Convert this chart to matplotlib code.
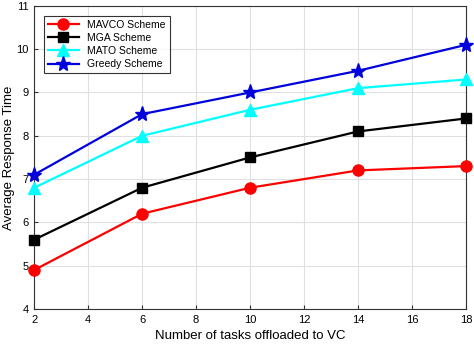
import matplotlib
matplotlib.use("Agg")
import matplotlib.pyplot as plt

plt.rcParams['font.family'] = ['Liberation Sans', 'DejaVu Sans']

tasks = [2, 6, 10, 14, 18]
mavco = [4.9, 6.2, 6.8, 7.2, 7.3]
mga = [5.6, 6.8, 7.5, 8.1, 8.4]
mato = [6.8, 8.0, 8.6, 9.1, 9.3]
greedy = [7.1, 8.5, 9.0, 9.5, 10.1]

fig = plt.figure(figsize=(4.74, 3.46), dpi=100)
ax = fig.add_axes([0.072, 0.107, 0.911, 0.876])

style = dict(lw=1.6, clip_on=False, zorder=3)
ax.plot(tasks, mavco, color='red', marker='o', ms=8, label='MAVCO Scheme', **style)
ax.plot(tasks, mga, color='black', marker='s', ms=7, label='MGA Scheme', **style)
ax.plot(tasks, mato, color='cyan', marker='^', ms=8, label='MATO Scheme', **style)
ax.plot(tasks, greedy, color='#0000dd', marker='*', ms=11, label='Greedy Scheme', **style)

ax.set_xlim(2, 18)
ax.set_ylim(4, 11)
ax.set_xticks(range(2, 19, 2))
ax.set_yticks(range(4, 12))
ax.grid(True, color='#e0e0e0', lw=0.8)
ax.set_axisbelow(True)
ax.tick_params(direction='in', labelsize=8, length=3, pad=4, color='#333333')
for s in ax.spines.values():
    s.set_color('#333333')
    s.set_linewidth(0.8)

ax.set_xlabel('Number of tasks offloaded to VC', fontsize=9.5, labelpad=4)
ax.set_ylabel('Average Response Time', fontsize=9.5, labelpad=1)

leg = ax.legend(loc='upper left', fontsize=7.5, frameon=True, fancybox=False,
                edgecolor='black', handlelength=3, borderpad=0.4,
                labelspacing=0.3, bbox_to_anchor=(0.01, 0.985))
leg.get_frame().set_linewidth(0.8)

fig.savefig('out.png', dpi=100)
